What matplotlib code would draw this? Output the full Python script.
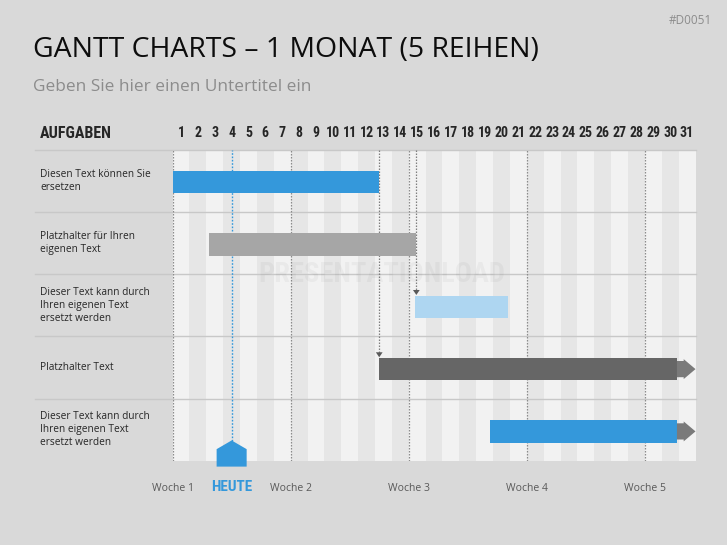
import matplotlib
matplotlib.use("Agg")
import matplotlib.pyplot as plt
from matplotlib.patches import Polygon, Rectangle
from matplotlib.transforms import blended_transform_factory
from matplotlib import font_manager

# ---- data -------------------------------------------------------------------
tasks = [
    "Diesen Text können Sie\nersetzen",
    "Platzhalter für Ihren\neigenen Text",
    "Dieser Text kann durch\nIhren eigenen Text\nersetzt werden",
    "Platzhalter Text",
    "Dieser Text kann durch\nIhren eigenen Text\nersetzt werden",
]
bar_start = [0.0, 2.18, 14.4, 12.25, 18.8]     # in days (day k spans k-1..k)
bar_end = [12.25, 14.45, 19.9, 29.9, 29.9]
bar_colors = ["#3498db", "#a6a6a6", "#aed6f1", "#666666", "#3498db"]
bar_continues = [False, False, False, True, True]
days = list(range(1, 32))
week_labels = ["Woche 1", "Woche 2", "Woche 3", "Woche 4", "Woche 5"]
week_starts = [0, 7, 14, 21, 28]
today = 3.5
dependencies = [(12.25, 3), (14.45, 2)]        # (x, target row)

BG = "#d9d9d9"
BLUE = "#3498db"

installed = {f.name for f in font_manager.fontManager.ttflist}
cond = [f for f in ["Roboto Condensed", "Open Sans Condensed", "Liberation Sans Narrow",
                    "Roboto", "DejaVu Sans"] if f in installed]
body = ["Open Sans", "DejaVu Sans"]
narrow = "Roboto Condensed" in installed or "Open Sans Condensed" in installed

W, H = 727, 545
fig = plt.figure(figsize=(W / 100, H / 100), dpi=100, facecolor=BG)

gx0, gx1, gy0, gy1 = 172.6, 695.5, 149.5, 461.0
ax = fig.add_axes([gx0 / W, 1 - gy1 / H, (gx1 - gx0) / W, (gy1 - gy0) / H])
ax.set_xlim(0, 31)
ax.set_ylim(5, 0)
ax.set_facecolor("#f2f2f2")
for s in ax.spines.values():
    s.set_visible(False)

# alternating day stripes
for d in days:
    if d % 2 == 0:
        ax.add_patch(Rectangle((d - 1, 0), 1, 5, facecolor="#e6e6e6", edgecolor="none", zorder=0))

# row separators, extending into the task-label column
for r in range(0, 5):
    ax.axhline(r, xmin=-0.263, xmax=1, color="#c8c8c8", lw=1, clip_on=False, zorder=1)

# week lines
for ws in week_starts:
    ax.axvline(ws, color="#8c8c8c", lw=0.9, ls=(0, (1.2, 1.2)), zorder=1)

# dependency lines
for x, row in dependencies:
    ytop = row + 0.5 + 0.025 - 0.18
    ax.plot([x, x], [0, ytop - 0.06], color="#7f7f7f", lw=0.9, ls=(0, (1.2, 1.2)), zorder=2)
    ax.add_patch(Polygon([(x - 0.2, ytop - 0.09), (x + 0.2, ytop - 0.09), (x, ytop - 0.01)],
                         closed=True, facecolor="#595959", edgecolor="none", zorder=3))

# today line
ax.axvline(today, color=BLUE, lw=1, ls=(0, (1.2, 1.2)), zorder=2)

# bars
bh = 0.36
for i, (s, e, c, cont) in enumerate(zip(bar_start, bar_end, bar_colors, bar_continues)):
    yc = i + 0.5 + 0.025
    ax.barh(yc, e - s, left=s, height=bh, color=c, edgecolor="none", zorder=4)
    if cont:
        ax.add_patch(Polygon([(e, yc - 0.13), (e + 0.4, yc - 0.13), (e + 0.4, yc - 0.16),
                              (e + 1.1, yc), (e + 0.4, yc + 0.16), (e + 0.4, yc + 0.13),
                              (e, yc + 0.13)],
                             closed=True, facecolor="#7a7a7a", edgecolor="none",
                             zorder=4, clip_on=False))

# today marker (house shape) below the grid
ax.add_patch(Polygon([(today - 0.89, 5.09), (today - 0.89, 4.81), (today, 4.67),
                      (today + 0.89, 4.81), (today + 0.89, 5.09)],
                     closed=True, facecolor=BLUE, edgecolor="none", zorder=5, clip_on=False))
ax.text(today, 5.42, "HEUTE", color=BLUE, fontsize=11 if narrow else 9, fontweight="bold",
        family=cond, ha="center", va="center")

# week labels
for ws, lab in zip(week_starts, week_labels):
    ax.text(ws, 5.44, lab, color="#595959", fontsize=7.5, family=body,
            ha="center", va="center")

# day numbers on top
ax.set_xticks([d - 0.5 for d in days])
ax.set_xticklabels([str(d) for d in days], family=cond, fontweight="bold",
                   fontsize=10 if narrow else 8.6, color="#262626")
ax.xaxis.tick_top()
ax.tick_params(axis="x", length=0, pad=7)
ax.set_yticks([])

# task labels
tr = blended_transform_factory(fig.transFigure, ax.transData)
for i, t in enumerate(tasks):
    ax.text(40.5 / W, i + 0.5, t, transform=tr, fontsize=7.3, family=body,
            color="#262626", ha="left", va="center", linespacing=1.25)

fig.text(40 / W, 1 - 134 / H, "AUFGABEN", fontsize=11.5 if narrow else 10, fontweight="bold",
         family=cond, color="#262626", ha="left", va="center")

# faint watermark
ax.text(12.4, 2.0, "PRESENTATIONLOAD", fontsize=20.5 if narrow else 16, fontweight="bold",
        family=cond, color="#000000", alpha=0.035, ha="center", va="center", zorder=3)

# titles
fig.text(33 / W, 1 - 50 / H, "GANTT CHARTS – 1 MONAT (5 REIHEN)", fontsize=20.4,
         family=body, color="#0d0d0d", ha="left", va="center")
fig.text(33 / W, 1 - 87 / H, "Geben Sie hier einen Untertitel ein", fontsize=12.4,
         family=body, color="#8c8c8c", ha="left", va="center")
fig.text(712 / W, 1 - 20 / H, "#D0051", fontsize=8.5, family=body, color="#8c8c8c",
         ha="right", va="center")

fig.savefig("out.png", dpi=100, facecolor=BG)
